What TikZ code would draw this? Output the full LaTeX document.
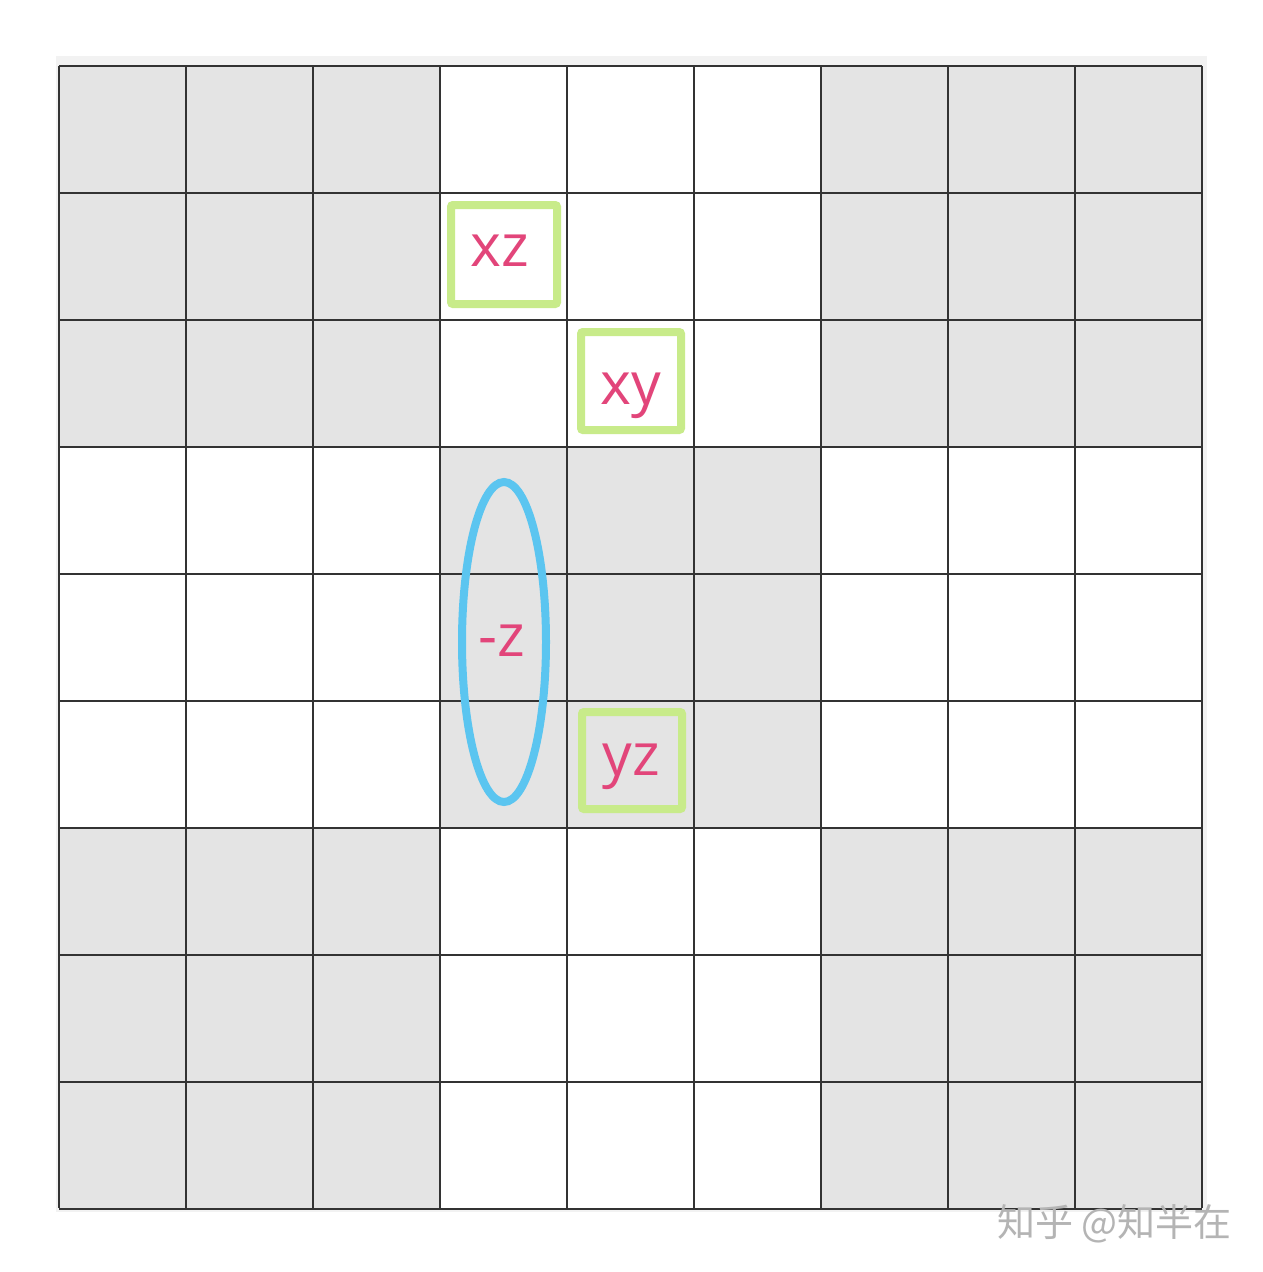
\documentclass[tikz,border=0pt]{standalone}
\usepackage{fontspec}
\setmainfont{Open Sans}
\newfontfamily\cjkfont{Noto Sans CJK SC}
\definecolor{cellgray}{HTML}{E4E4E4}
\definecolor{bggray}{HTML}{F2F2F2}
\definecolor{gridline}{HTML}{333333}
\definecolor{pinktext}{HTML}{E2457A}
\definecolor{boxgreen}{HTML}{C8EB8A}
\definecolor{ovalblue}{HTML}{5BC5F0}
\definecolor{wmgray}{HTML}{B4B4B4}
\begin{document}
\begin{tikzpicture}[x=1pt,y=-1pt,
  greenbox/.style={draw=boxgreen,line width=8pt,rounded corners=2pt,inner sep=0pt},
  lbl/.style={text=pinktext,font=\fontsize{59}{61}\selectfont,anchor=base,inner sep=0pt}]
\useasboundingbox (0,0) rectangle (1263,1272);
\fill[white] (0,0) rectangle (1263,1272);
\fill[bggray] (56,56) rectangle (1207,1212);
\fill[white] (59,66) rectangle (1202,1208);
% gray cells
\foreach \r in {0,1,2,6,7,8}{
  \foreach \c in {0,1,2,6,7,8}{
    \fill[cellgray] ({59+127*\c},{66+127*\r}) rectangle ++(127,127);
  }
}
\foreach \r in {3,4,5}{
  \foreach \c in {3,4,5}{
    \fill[cellgray] ({59+127*\c},{66+127*\r}) rectangle ++(127,127);
  }
}
% grid lines
\foreach \i in {0,...,9}{
  \draw[gridline,line width=1.4pt] ({59+127*\i},66) -- ({59+127*\i},1208);
  \draw[gridline,line width=1.4pt] (59,{66+127*\i}) -- (1202,{66+127*\i});
}
% boxes
\node[greenbox,minimum width=106pt,minimum height=99pt] (bxz) at (504,254.5) {};
\node[greenbox,minimum width=100pt,minimum height=98pt] (bxy) at (631,381) {};
\node[greenbox,minimum width=100pt,minimum height=97pt] (byz) at (632,760.5) {};
% oval
\draw[ovalblue,line width=8pt] (504,642) ellipse [x radius=42pt,y radius=160pt];
% labels
\node[lbl] (txz) at (500,266) {xz};
\node[lbl] (txy) at (631,404) {xy};
\node[lbl] (tyz) at (631,775) {yz};
\node[lbl] (tz) at (502,656) {-z};
% watermark
\node[text=wmgray,font=\cjkfont\fontsize{38}{40}\selectfont,anchor=base west,inner sep=0pt] (wm) at (997,1236) {知乎 @知半在};
\end{tikzpicture}
\end{document}
